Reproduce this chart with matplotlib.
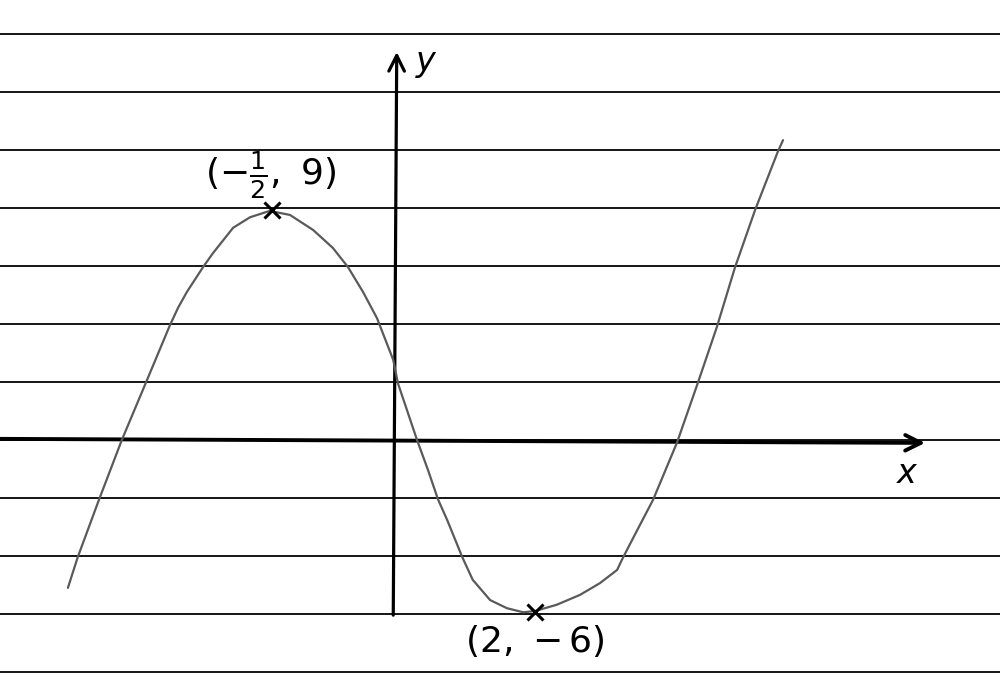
import matplotlib.pyplot as plt
import numpy as np

# Sketch units: 1 unit = one ruled-line spacing, origin where the drawn axes cross
rule_lines = [-4, -3, -2, -1, 0, 1, 2, 3, 4, 5, 6, 7]

# Traced points of the hand-drawn cubic
curve_x = [-5.64, -5.47, -5.10, -4.71, -4.29, -3.88, -3.74, -3.59, -3.31, -3.14,
           -2.79, -2.50, -2.16, -1.81, -1.41, -1.07, -0.81, -0.55, -0.31, -0.03,
           0.05, 0.38, 0.57, 0.74, 0.90, 1.16, 1.34, 1.64, 1.93, 2.21,
           2.41, 2.79, 3.19, 3.53, 3.83, 3.91, 4.09, 4.45, 4.86, 5.22,
           5.55, 5.86, 6.21, 6.60, 6.69]
curve_y = [-2.55, -2.02, -1.02, 0.00, 1.00, 1.98, 2.28, 2.55, 2.98, 3.22,
           3.66, 3.84, 3.95, 3.88, 3.62, 3.31, 2.98, 2.55, 2.10, 1.38,
           0.98, 0.00, -0.52, -1.02, -1.38, -2.02, -2.41, -2.76, -2.90, -2.97,
           -2.95, -2.84, -2.67, -2.47, -2.24, -2.07, -1.72, -1.03, -0.05, 0.98,
           1.95, 2.97, 3.97, 4.97, 5.17]

# Turning points marked with a cross, and their labels
turn_x = [-2.12, 2.41]
turn_y = [3.97, -2.97]
turn_labels = [r'$(-\frac{1}{2},\ 9)$', r'$(2,\ {-}\,6)$']
label_x = [-2.14, 2.40]
label_y = [4.57, -3.47]

# Drawn axes (start, end)
xaxis_start, xaxis_end = (-6.9, 0.02), (9.14, -0.05)
yaxis_start, yaxis_end = (-0.03, -3.02), (0.03, 6.69)

fig = plt.figure(figsize=(10, 6.81), dpi=100)
ax = fig.add_axes([0, 0, 1, 1])
ax.set_xlim(-395 / 58, 605 / 58)
ax.set_ylim(-241 / 58, 440 / 58)
ax.axis('off')
fig.patch.set_facecolor('white')

# Ruled paper
for ly in rule_lines:
    ax.axhline(ly, color='#141414', lw=1.4, zorder=1)

# Axes with arrow heads
ax.annotate('', xy=xaxis_end, xytext=xaxis_start,
            arrowprops=dict(arrowstyle='->', lw=2.8, color='black',
                            mutation_scale=28, shrinkA=0, shrinkB=0), zorder=3)
ax.annotate('', xy=yaxis_end, xytext=yaxis_start,
            arrowprops=dict(arrowstyle='->', lw=2.3, color='black',
                            mutation_scale=28, shrinkA=0, shrinkB=0), zorder=3)
ax.text(8.84, -0.57, r'$x$', fontsize=24, ha='center', va='center')
ax.text(0.55, 6.5, r'$y$', fontsize=24, ha='center', va='center')

# The curve
ax.plot(curve_x, curve_y, color='#5a5a5a', lw=1.6, solid_joinstyle='round',
        solid_capstyle='round', zorder=4)

# Turning points
ax.plot(turn_x, turn_y, linestyle='none', marker='x', ms=12, mew=2.2,
        color='black', zorder=5)
for tx, ty, lab in zip(label_x, label_y, turn_labels):
    ax.text(tx, ty, lab, fontsize=26, ha='center', va='center')

fig.savefig('out.png', dpi=100, facecolor='white')
